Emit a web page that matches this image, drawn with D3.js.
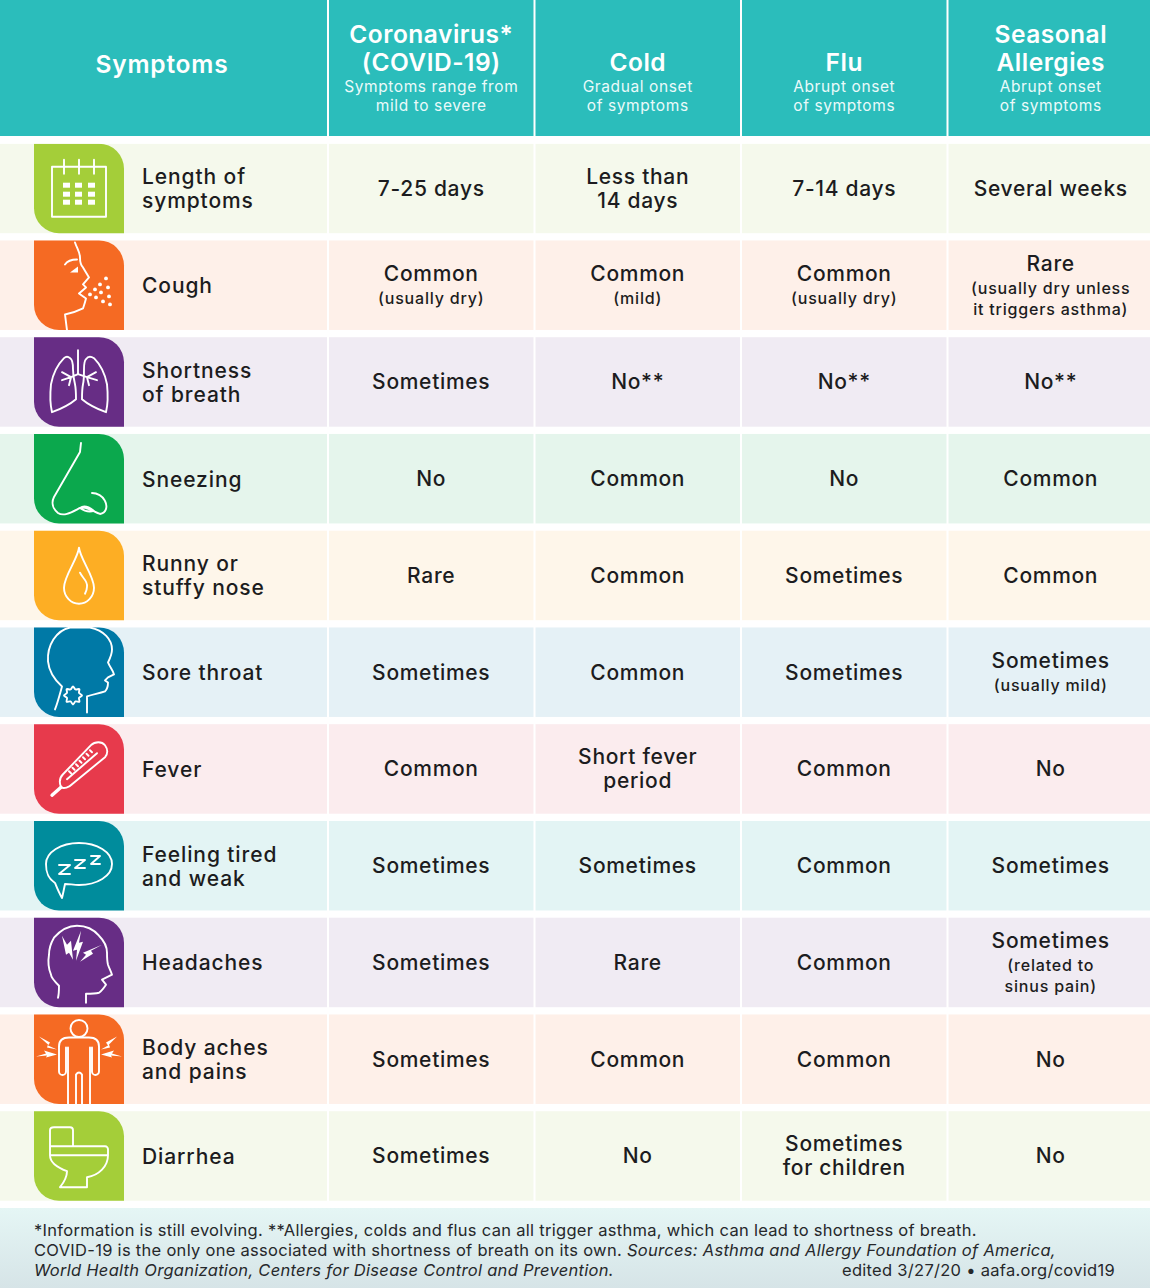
<!DOCTYPE html>
<html>
<head>
<meta charset="utf-8">
<script src="https://cdn.jsdelivr.net/npm/d3@7"></script>
<style>
html, body { margin: 0; padding: 0; background: #fff; }
svg { display: block; }
text { font-family: Inter, "Noto Sans", sans-serif; }
</style>
</head>
<body>
<div id="chart"></div>
<script>
var width = 1150;
var height = 1288;

var symptoms = ["Length of\nsymptoms", "Cough", "Shortness\nof breath", "Sneezing", "Runny or\nstuffy nose",
  "Sore throat", "Fever", "Feeling tired\nand weak", "Headaches", "Body aches\nand pains", "Diarrhea"];
var columns = ["Coronavirus*\n(COVID-19)", "Cold", "Flu", "Seasonal\nAllergies"];
var subtitles = ["Symptoms range from\nmild to severe", "Gradual onset\nof symptoms", "Abrupt onset\nof symptoms", "Abrupt onset\nof symptoms"];

var covid = ["7-25 days", "Common(usually dry)", "Sometimes", "No", "Rare", "Sometimes", "Common", "Sometimes", "Sometimes", "Sometimes", "Sometimes"];
var cold = ["Less than\n14 days", "Common(mild)", "No**", "Common", "Common", "Common", "Short fever\nperiod", "Sometimes", "Rare", "Common", "No"];
var flu = ["7-14 days", "Common(usually dry)", "No**", "No", "Sometimes", "Sometimes", "Common", "Common", "Common", "Common", "Sometimes\nfor children"];
var allergies = ["Several weeks", "Rare(usually dry unless\nit triggers asthma)", "No**", "Common", "Common", "Sometimes(usually mild)", "No", "Sometimes", "Sometimes(related to\nsinus pain)", "No", "No"];
var cells = [covid, cold, flu, allergies];

var rowTints = ["#f5f9ec", "#fef0e9", "#f0ebf3", "#e5f5ec", "#fef6ea", "#e5f1f6", "#fbecee", "#e3f4f4", "#f0ebf3", "#fef0e9", "#f5f9ec"];
var iconColors = ["#a4ce39", "#f56a23", "#672d85", "#0ba84d", "#fdae24", "#0079a6", "#e73a4c", "#008c9c", "#672d85", "#f56a23", "#a4ce39"];

// icon outlines, in a 90x90 box
var iconPaths = [
  "M18,23H72V73H18ZM30,16V30M45,16V30M60,16V30",
  "M41,2C43,8 46,12 46,17C46,21 47,25 49,27L55,37L49,44L52,47L45,53L52,58C51,62 50,65 49,68C43,71 37,73 31,74L33,90M31,24C33,21 38,19 43,19",
  "M44,13V37M37,40L44,37L53,40M28,35L37,40L28,43M37,40L35,48M62,35L53,40L63,43M53,40L55,48M39,32C39,27 38,22 36,21C34,19 32,19 30,21C24,27 19,37 17,47C16,57 16,67 18,75C26,72 35,68 42,62C42,57 42,52 41,47C40,43 39,38 39,32M50,32C50,27 51,23 52,22C54,19 57,19 60,21C66,27 71,37 73,47C74,57 74,67 72,75C64,72 55,68 48,62C48,57 48,52 49,47C50,43 50,38 50,32",
  "M47,9L46,18L20,63C17,69 19,75 24,79C30,83 38,78 46,74C52,72 60,78 66,80C72,79 74,73 71,67C69,62 63,59 58,59M46,74C50,71 55,73 60,77C56,78 50,77 46,74",
  "M45,17C44,28 30,45 30,57C30,66 37,73 45,73C53,73 60,66 60,57C60,45 46,28 45,17ZM46,42C48,47 54,50 53,56C53,59 52,61 51,63",
  "M21,82C24,74 26,66 28,59C20,52 15,44 14,34C13,18 22,3 36,0H56C70,3 78,12 78,22C78,27 76,31 74,35C76,40 79,43 80,47L74,50L71,53L74,55C74,59 73,62 71,64C65,66 59,67 53,69V85",
  "M27,63C25,58 26,53 29,50L57,21C61,17 68,17 71,21C74,25 74,30 71,33L38,60C35,63 30,65 27,63ZM33,55L63,29M35,47L37,49M38.5,43.5L40.5,45.5M42,40L44,42M45.5,36.5L47.5,38.5M49,33L51,35M52.5,29.5L54.5,31.5M56,26L58,28",
  "M21,62C13,57 12,50 12,43C12,31 27,22 45,22C63,22 78,31 78,43C78,55 63,64 45,64C40,64 35,63 31,63C30,68 29,73 28,77C25,72 23,67 21,62ZM25,44H36L25,53H36M41,39H51L41,47H51M57,35H66L57,43H66",
  "M24,80C25,76 25,72 25,68C20,63 17,60 17,57C14,50 14,43 15,37C15,30 17,25 20,20C26,13 34,8 43,8C53,8 60,12 65,18C71,24 73,30 73,35C73,39 73,43 74,47C75,50 77,54 78,57L68,62L72,67C70,70 68,73 65,75C61,76 56,76 52,76V85",
  "M34,33V90M56,33V90M42,90V60Q45,56 48,60V90M32,57V33M25,57A3.5,3.5 0 0 0 32,57M25,57V32Q25,23 35,23H55Q65,23 65,32V57A3.5,3.5 0 0 1 58,57V33",
  "M16,35V19C16,17 18,16 20,16H36C38,16 39,17 39,19V35M16,35H71C73,35 74,37 74,38V44M16,35V44H74C74,55 65,64 53,66V76H26C30,71 33,66 33,60C25,57 16,52 16,44"
];
// solid shapes inside the icons: lightning bolts and such
var iconFills = {
  1: "M36,32L44,26V32Z",
  8: "M28,18L33,27L37,23L39,42L35,35L32,37ZM47,13L45,25L49,24L42,43L43,32L39,33ZM68,27L57,33L59,36L46,44L52,37L49,35Z",
  9: "M5,22L16,28L14,31L23,35L13,33L14,30ZM2,42L12,39L10,36L23,40L12,43L13,41ZM83,22L72,28L74,31L67,35L76,33L75,30ZM88,42L78,39L80,36L67,40L78,43L77,41Z"
};
var calendarCells = [[29,39],[41,39],[54,39],[29,48],[41,48],[54,48],[29,56],[41,56],[54,56]];
var coughDots = [[72,38],[66,44],[74,47],[61,49],[67,52],[56,54],[75,56],[62,57],[69,61],[76,64]];
var headCircle = {cx: 45, cy: 14, r: 8.5};

var footLine1 = "*Information is still evolving. **Allergies, colds and flus can all trigger asthma, which can lead to shortness of breath.";
var footLine2a = "COVID-19 is the only one associated with shortness of breath on its own. ";
var footLine2b = "Sources: Asthma and Allergy Foundation of America,";
var footLine3 = "World Health Organization, Centers for Disease Control and Prevention.";
var footEdited = "edited 3/27/20 • aafa.org/covid19";

var x = d3.scaleBand().domain(d3.range(columns.length)).range([328, 1154]);
var y = d3.scaleBand().domain(d3.range(symptoms.length)).range([143.7, 1200.7]).paddingInner(0.075);

var svg = d3.select("#chart").append("svg").attr("width", width).attr("height", height);

var grad = svg.append("defs").append("linearGradient").attr("id", "foot")
  .attr("x1", 0).attr("x2", 0).attr("y1", 0).attr("y2", 1);
grad.append("stop").attr("offset", "0%").attr("stop-color", "#e5f6f5");
grad.append("stop").attr("offset", "100%").attr("stop-color", "#d6e4e7");

// header
svg.append("rect").attr("x", 0).attr("y", 0).attr("width", width).attr("height", 136).attr("fill", "#2bbdbb");
svg.append("text").text("Symptoms").attr("x", 162).attr("y", 73)
  .attr("text-anchor", "middle").attr("fill", "#fff").attr("font-size", 24.5).attr("font-weight", 600)
  .attr("letter-spacing", 0.8);

var head = svg.append("g").selectAll("g").data(columns).join("g")
  .attr("transform", (d, i) => `translate(${x(i) + x.bandwidth() / 2},0)`);
head.each(function (d, i) {
  var g = d3.select(this);
  var lines = d.split("\n");
  lines.forEach(function (t, k) {
    g.append("text").text(t).attr("y", (lines.length == 1 ? 71 : 43 + k * 28))
      .attr("text-anchor", "middle").attr("fill", "#fff").attr("font-size", 24.5).attr("font-weight", 600)
      .attr("letter-spacing", 0.5);
  });
  subtitles[i].split("\n").forEach(function (t, k) {
    g.append("text").text(t).attr("y", 92 + k * 19)
      .attr("text-anchor", "middle").attr("fill", "#eafafa").attr("font-size", 15.5)
      .attr("letter-spacing", 0.6);
  });
});

// rows
var row = svg.append("g").selectAll("g").data(symptoms).join("g")
  .attr("transform", (d, i) => `translate(0,${y(i)})`);

var h = y.bandwidth();
row.append("rect").attr("width", width).attr("height", h).attr("fill", (d, i) => rowTints[i]);

// icon tile: square top-left and bottom-right corners
var tile = row.append("g").attr("transform", "translate(34,0)");
tile.append("path")
  .attr("d", `M0,0H65A25,25 0 0 1 90,25V${h}H25A25,25 0 0 1 0,${h - 25}Z`)
  .attr("fill", (d, i) => iconColors[i]);
tile.append("path").attr("d", (d, i) => iconPaths[i])
  .attr("fill", "none").attr("stroke", "#fff").attr("stroke-width", 1.9)
  .attr("stroke-linejoin", "round").attr("stroke-linecap", "round");
tile.append("path").attr("d", (d, i) => iconFills[i] || "").attr("fill", "#fff");
tile.filter((d, i) => i == 0).selectAll("rect").data(calendarCells).join("rect")
  .attr("x", d => d[0]).attr("y", d => d[1]).attr("width", 7).attr("height", 5).attr("fill", "#fff");
tile.filter((d, i) => i == 1).selectAll("circle").data(coughDots).join("circle")
  .attr("cx", d => d[0]).attr("cy", d => d[1]).attr("r", 1.9).attr("fill", "#fff");
tile.filter((d, i) => i == 6).append("path").attr("d", "M18,71L27,63")
  .attr("stroke", "#fff").attr("stroke-width", 3.4).attr("stroke-linecap", "round");
tile.filter((d, i) => i == 9).append("circle")
  .attr("cx", headCircle.cx).attr("cy", headCircle.cy).attr("r", headCircle.r)
  .attr("fill", "none").attr("stroke", "#fff").attr("stroke-width", 1.9);

// sore throat gear
var gear = d3.lineRadial().curve(d3.curveCardinalClosed)
  .angle((d, i) => i * Math.PI / 8)
  .radius((d, i) => (i % 2 ? 6.5 : 9));
tile.filter((d, i) => i == 5).append("path")
  .attr("transform", "translate(39,68)")
  .attr("d", gear(d3.range(16)))
  .attr("fill", "none").attr("stroke", "#fff").attr("stroke-width", 1.9);

row.each(function (d, i) {
  var g = d3.select(this);
  var lines = d.split("\n");
  lines.forEach(function (t, k) {
    g.append("text").text(t).attr("x", 142)
      .attr("y", h / 2 + 8 + (k - (lines.length - 1) / 2) * 24)
      .attr("fill", "#1c1c20").attr("font-size", 21).attr("font-weight", 500).attr("letter-spacing", 0.9);
  });
  cells.forEach(function (col, c) {
    var cx = x(c) + x.bandwidth() / 2;
    var parts = col[i].split("(");
    var main = parts[0].split("\n");
    var sub = parts.length > 1 ? ("(" + parts[1]).split("\n") : [];
    var ys;
    if (sub.length == 0) ys = main.map((t, k) => h / 2 + 7.5 + (k - (main.length - 1) / 2) * 24);
    else if (sub.length == 1) ys = [h / 2 - 4.5];
    else ys = [h / 2 - 14.5];
    main.forEach(function (t, k) {
      g.append("text").text(t).attr("x", cx).attr("y", ys[k])
        .attr("text-anchor", "middle").attr("fill", "#1c1c20").attr("font-size", 21).attr("font-weight", 500)
        .attr("letter-spacing", 0.7);
    });
    sub.forEach(function (t, k) {
      var base = sub.length == 1 ? h / 2 + 19 : h / 2 + 9 + k * 21;
      g.append("text").text(t).attr("x", cx).attr("y", base)
        .attr("text-anchor", "middle").attr("fill", "#1c1c20").attr("font-size", 16).attr("font-weight", 500)
        .attr("letter-spacing", 0.8);
    });
  });
});

// white column rules over header and rows
svg.append("g").selectAll("rect").data(d3.range(columns.length)).join("rect")
  .attr("x", d => x(d) - 1).attr("y", 0).attr("width", 2).attr("height", 1201).attr("fill", "#fff");
svg.append("rect").attr("x", 0).attr("y", 136).attr("width", width).attr("height", 7.7).attr("fill", "#fff");

// footer
svg.append("rect").attr("x", 0).attr("y", 1208).attr("width", width).attr("height", 80).attr("fill", "url(#foot)");
var foot = svg.append("g").attr("fill", "#26282b").attr("font-size", 16.5).attr("letter-spacing", 0.29)
  .style("font-family", "Lato");
foot.append("text").attr("x", 34).attr("y", 1236).text(footLine1);
var l2 = foot.append("text").attr("x", 34).attr("y", 1256);
l2.append("tspan").text(footLine2a);
l2.append("tspan").attr("font-style", "italic").text(footLine2b);
foot.append("text").attr("x", 34).attr("y", 1276).attr("font-style", "italic").text(footLine3);
foot.append("text").attr("x", 1115).attr("y", 1276).attr("text-anchor", "end").text(footEdited);
</script>
</body>
</html>
